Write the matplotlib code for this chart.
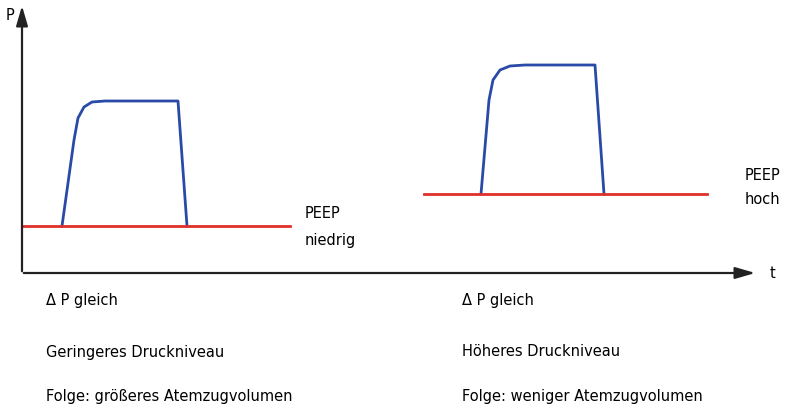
import matplotlib.pyplot as plt

# pixel-space diagram data
left_x = [62, 74, 78, 84, 92, 105, 178, 187]
left_y = [226, 140, 118, 107, 102, 101, 101, 226]
right_x = [481, 489, 493, 500, 510, 525, 595, 604]
right_y = [194, 100, 80, 70, 66, 65, 65, 194]
peep_low = ([22, 290], 226)
peep_high = ([424, 707], 194)

bottom_left = ["\u0394 P gleich", "Geringeres Druckniveau", "Folge: größeres Atemzugvolumen"]
bottom_right = ["\u0394 P gleich", "Höheres Druckniveau", "Folge: weniger Atemzugvolumen"]
bottom_y = [301, 352, 397]

fig = plt.figure(figsize=(7.85, 4.08), dpi=100)
ax = fig.add_axes([0, 0, 1, 1])
ax.set_xlim(0, 785)
ax.set_ylim(408, 0)
ax.axis("off")

blue = "#2a4aa8"
red = "#e0302a"
ax.plot(left_x, left_y, color=blue, lw=2)
ax.plot(right_x, right_y, color=blue, lw=2)
ax.plot(peep_low[0], [peep_low[1]] * 2, color=red, lw=2)
ax.plot(peep_high[0], [peep_high[1]] * 2, color=red, lw=2)

arrow = dict(arrowstyle="-|>,head_length=1.2,head_width=0.35", color="#222222", lw=1.6)
ax.annotate("", xy=(22, 3), xytext=(22, 274), arrowprops=arrow)
ax.annotate("", xy=(758, 273), xytext=(21, 273), arrowprops=arrow)
ax.text(6, 15, "P", fontsize=10.5, va="center")
ax.text(770, 274, "t", fontsize=10.5, va="center")

ax.text(305, 213, "PEEP", fontsize=10.5, va="center")
ax.text(305, 240, "niedrig", fontsize=10.5, va="center")
ax.text(745, 176, "PEEP", fontsize=10.5, va="center")
ax.text(745, 199, "hoch", fontsize=10.5, va="center")

for y, a, b in zip(bottom_y, bottom_left, bottom_right):
    ax.text(46, y, a, fontsize=10.5, va="center")
    ax.text(462, y, b, fontsize=10.5, va="center")

fig.savefig("out.png")
